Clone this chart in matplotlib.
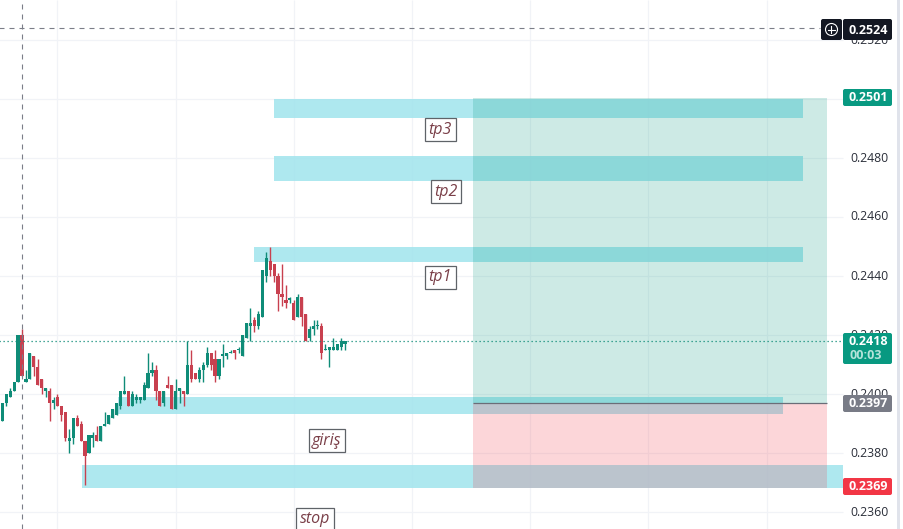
import matplotlib
matplotlib.use("Agg")
import matplotlib.pyplot as plt
from matplotlib.patches import FancyBboxPatch, Rectangle

plt.rcParams["font.family"] = ["Open Sans", "DejaVu Sans"]

opens = [
    .2391, .2397, .2399, .2401, .2404, .2420, .2404, .2405, .2413, .2409,
    .2405, .2401, .2401, .2397, .2399, .2396, .2394, .2384, .2385, .2392,
    .2390, .2384, .2380, .2385, .2386, .2384, .2389, .2390, .2392, .2393,
    .2396, .2400, .2401, .2396, .2398, .2398, .2398, .2402, .2407, .2408,
    .2401, .2397, .2403, .2403, .2395, .2401, .2401, .2400, .2410, .2407,
    .2405, .2408, .2410, .2414, .2412, .2406, .2413, .2413, .2414, .2415,
    .2415, .2413, .2419, .2423, .2425, .2423, .2426, .2440, .2445, .2444,
    .2440, .2434, .2432, .2432, .2431, .2426, .2433, .2427, .2419, .2422,
    .2423, .2423, .2415, .2415, .2415, .2415, .2416, .2417,
]
highs = [
    .2397, .2400, .2402, .2404, .2420, .2422, .2408, .2414, .2413, .2412,
    .2405, .2402, .2402, .2399, .2400, .2396, .2394, .2388, .2392, .2393,
    .2391, .2384, .2386, .2387, .2389, .2389, .2394, .2393, .2395, .2397,
    .2401, .2406, .2401, .2401, .2400, .2399, .2404, .2414, .2411, .2410,
    .2401, .2401, .2406, .2403, .2405, .2402, .2401, .2418, .2415, .2407,
    .2409, .2411, .2416, .2414, .2415, .2412, .2417, .2414, .2415, .2415,
    .2416, .2420, .2424, .2429, .2426, .2428, .2442, .2448, .2450, .2444,
    .2441, .2444, .2437, .2433, .2432, .2434, .2433, .2427, .2423, .2425,
    .2425, .2424, .2417, .2416, .2419, .2417, .2419, .2418,
]
lows = [
    .2391, .2396, .2399, .2401, .2404, .2406, .2404, .2405, .2406, .2403,
    .2400, .2399, .2391, .2395, .2396, .2391, .2384, .2380, .2383, .2389,
    .2384, .2369, .2380, .2382, .2384, .2384, .2389, .2390, .2392, .2393,
    .2395, .2400, .2396, .2396, .2397, .2397, .2398, .2402, .2406, .2398,
    .2396, .2396, .2402, .2395, .2395, .2397, .2396, .2400, .2404, .2405,
    .2404, .2404, .2409, .2408, .2404, .2405, .2409, .2412, .2414, .2412,
    .2414, .2413, .2419, .2418, .2421, .2422, .2426, .2438, .2440, .2438,
    .2428, .2430, .2429, .2431, .2425, .2426, .2423, .2418, .2418, .2420,
    .2422, .2412, .2415, .2409, .2415, .2415, .2415, .2415,
]
closes = [
    .2397, .2400, .2401, .2404, .2420, .2406, .2405, .2414, .2409, .2403,
    .2402, .2402, .2397, .2398, .2396, .2393, .2385, .2385, .2392, .2389,
    .2384, .2379, .2386, .2386, .2384, .2389, .2390, .2393, .2395, .2397,
    .2401, .2401, .2396, .2400, .2399, .2399, .2403, .2407, .2408, .2401,
    .2396, .2401, .2402, .2395, .2401, .2402, .2400, .2410, .2405, .2405,
    .2408, .2410, .2414, .2410, .2406, .2412, .2413, .2414, .2414, .2414,
    .2415, .2420, .2424, .2424, .2423, .2427, .2442, .2446, .2442, .2440,
    .2434, .2433, .2431, .2432, .2425, .2433, .2426, .2418, .2422, .2423,
    .2423, .2414, .2415, .2416, .2416, .2417, .2418, .2418,
]

# drawn zones: (first bar, last bar, low price, high price)
zone_left = [69.0, 69.0, 63.9, 29.4, 20.2]
zone_right = [203.2, 203.2, 203.2, 198.2, 213.4]
zone_low = [.24936, .24722, .24447, .23932, .23681]
zone_high = [.25000, .24807, .24498, .23990, .23759]

entry_price = .2397
target_price = .25003
stop_price = .2368
position_start = 119.5
position_end = 209.3

last_price = .2418
cross_price = .2524
cross_bar = 5.0

tick_prices = [.2520, .2500, .2480, .2460, .2440, .2420, .2400, .2380, .2360]
grid_bars = [14, 44, 74, 104, 134, 164, 194]

notes = ["tp3", "tp2", "tp1", "giriş", "stop"]
note_bars = [111.2, 112.6, 111.2, 82.4, 79.4]
note_prices = [.24895, .24686, .24395, .23841, .23576]

GREEN = "#0f8c78"
RED = "#c8404f"
W, H = 904, 529

fig = plt.figure(figsize=(W / 100, H / 100), dpi=100, facecolor="white")
ax = fig.add_axes([0, 0, 1, 1])
ax.set_xlim(-0.584, 228.9)
ax.set_ylim(0.248 - 371 / 29500, 0.248 + 158 / 29500)
ax.axis("off")

# right edge of the chart pane, in bars
pane_end = 213.4

ax.hlines(tick_prices, -1, pane_end, color="#f1f3f7", lw=0.9, zorder=1)
ax.vlines(grid_bars, ax.get_ylim()[0], ax.get_ylim()[1], color="#f1f3f7", lw=0.9, zorder=1)

for left, right, low, high in zip(zone_left, zone_right, zone_low, zone_high):
    ax.add_patch(Rectangle((left, low), right - left, high - low,
                           fc="#a0e4ed", ec="none", alpha=0.85, zorder=2))

ax.add_patch(Rectangle((position_start, entry_price), position_end - position_start,
                       target_price - entry_price, fc="#089981", ec="none", alpha=0.2, zorder=3))
ax.add_patch(Rectangle((position_start, stop_price), position_end - position_start,
                       entry_price - stop_price, fc="#f23645", ec="none", alpha=0.2, zorder=3))
ax.hlines(entry_price, position_start, position_end, color="#6a6d78", lw=0.9, zorder=4)

for i, (o, h, l, c) in enumerate(zip(opens, highs, lows, closes)):
    color = GREEN if c >= o else RED
    ax.vlines(i, l, h, color=color, lw=1.0, zorder=5)
    ax.bar(i, max(abs(c - o), 0.00004), bottom=min(o, c), width=0.8, color=color, lw=0, zorder=6)

ax.hlines(last_price, -1, pane_end, color=GREEN, lw=0.9, linestyles=(0, (1, 2.2)), zorder=7)
ax.hlines(cross_price, -1, 207.5, color="#7b7e88", lw=0.8, linestyles=(0, (4.5, 4.5)), zorder=7)
ax.vlines(cross_bar, *ax.get_ylim(), color="#7b7e88", lw=0.8, linestyles=(0, (4.5, 4.5)), zorder=7)

for note, x, y in zip(notes, note_bars, note_prices):
    ax.text(x, y, note, fontsize=11.5, style="italic", color="#7a3f48", ha="center", va="center",
            bbox=dict(boxstyle="square,pad=0.22", fc="white", ec="#5f6368", lw=0.9), zorder=8)

for p in tick_prices:
    ax.text(215.4, p, f"{p:.4f}", fontsize=8.8, color="#2a2e39", ha="left", va="center", zorder=8)

# price scale badges, laid out in screen pixels
ui = fig.add_axes([0, 0, 1, 1], facecolor="none")
ui.set_xlim(0, W)
ui.set_ylim(H, 0)
ui.axis("off")


def badge(x0, y0, x1, y1, color):
    ui.add_patch(FancyBboxPatch((x0 + 1, y0 + 1), x1 - x0 - 2, y1 - y0 - 2,
                                boxstyle="round,pad=1,rounding_size=2", fc=color, ec="none"))


badge(821, 19, 842, 40, "#131722")
badge(843, 19, 892, 40, "#131722")
ui.add_patch(plt.Circle((831.5, 29.5), 6, fc="none", ec="white", lw=0.8))
ui.plot([828, 835], [29.5, 29.5], color="white", lw=0.8)
ui.plot([831.5, 831.5], [26, 33], color="white", lw=0.8)
ui.text(868, 30, "0.2524", color="white", fontsize=9, fontweight="bold", ha="center", va="center")

badge(843, 89, 892, 106, "#089981")
ui.text(868, 97.5, "0.2501", color="white", fontsize=9, fontweight="bold", ha="center", va="center")

badge(843, 333, 892, 364, "#089981")
ui.text(868, 341.5, "0.2418", color="white", fontsize=9, fontweight="bold", ha="center", va="center")
ui.text(866, 355.5, "00:03", color="#b5e3da", fontsize=9, fontweight="bold", ha="center", va="center")

badge(843, 395, 892, 412, "#787b86")
ui.text(868, 403.5, "0.2397", color="white", fontsize=9, fontweight="bold", ha="center", va="center")

badge(843, 478, 892, 495, "#f23645")
ui.text(868, 486.5, "0.2369", color="white", fontsize=9, fontweight="bold", ha="center", va="center")

ui.add_patch(Rectangle((897, 0), 3, H, fc="#e0e3eb", ec="none"))

fig.savefig("out.png", dpi=100)
